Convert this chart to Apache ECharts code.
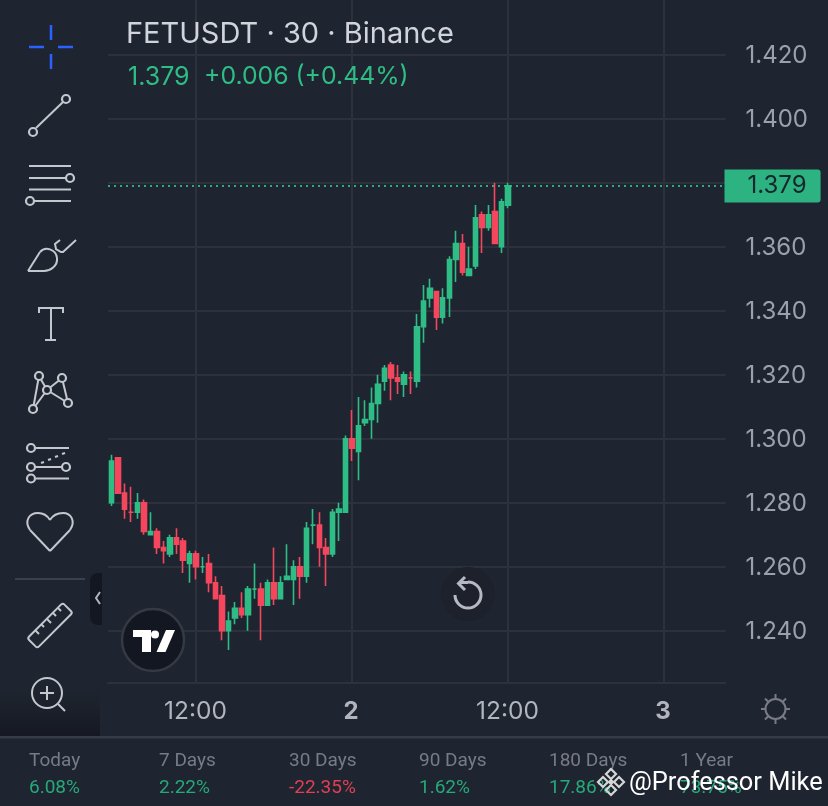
<!DOCTYPE html>
<html><head><meta charset="utf-8">
<style>html,body{margin:0;padding:0;background:#1f2530}#c{width:828px;height:806px}</style>
<script src="https://cdn.jsdelivr.net/npm/echarts@6/dist/echarts.min.js"></script>
</head><body><div id="c"></div>
<script>
// ----- data -----
const times = ["05:30","06:00","06:30","07:00","07:30","08:00","08:30","09:00","09:30","10:00","10:30","11:00","11:30",
"12:00","12:30","13:00","13:30","14:00","14:30","15:00","15:30","16:00","16:30","17:00","17:30","18:00","18:30","19:00","19:30","20:00","20:30","21:00","21:30","22:00","22:30","23:00","23:30",
"2","00:30","01:00","01:30","02:00","02:30","03:00","03:30","04:00","04:30","05:00","05:30","06:00","06:30","07:00","07:30","08:00","08:30","09:00","09:30","10:00","10:30","11:00","11:30",
"12:00","12:30","13:00","13:30","14:00","14:30","15:00","15:30","16:00","16:30","17:00","17:30","18:00","18:30","19:00","19:30","20:00","20:30","21:00","21:30","22:00","22:30","23:00","23:30",
"3","00:30","01:00","01:30","02:00","02:30","03:00","03:30","04:00","04:30"];
const labelledIndexes = [13,37,61,85];
const opens  = [1.280,1.294,1.283,1.277,1.277,1.280,1.270,1.271,1.266,1.264,1.269,1.268,1.261,1.264,1.260,1.261,1.255,1.251,1.240,1.244,1.247,1.245,1.253,1.253,1.248,1.255,1.250,1.256,1.256,1.260,1.257,1.273,1.273,1.266,1.264,1.277,1.277,1.300,1.296,1.305,1.306,1.311,1.318,1.323,1.319,1.317,1.319,1.318,1.335,1.344,1.346,1.338,1.344,1.356,1.361,1.351,1.354,1.370,1.366,1.371,1.360,1.373];
const closes = [1.293,1.283,1.278,1.277,1.280,1.271,1.271,1.266,1.265,1.269,1.267,1.262,1.264,1.260,1.260,1.255,1.250,1.240,1.243,1.247,1.245,1.253,1.253,1.248,1.255,1.250,1.255,1.257,1.260,1.257,1.272,1.273,1.266,1.264,1.277,1.278,1.300,1.297,1.304,1.306,1.311,1.317,1.322,1.319,1.318,1.320,1.319,1.335,1.343,1.347,1.338,1.344,1.356,1.361,1.352,1.353,1.369,1.366,1.370,1.361,1.374,1.379];
const lows   = [1.279,1.283,1.275,1.274,1.275,1.270,1.270,1.264,1.261,1.263,1.264,1.258,1.255,1.256,1.258,1.252,1.250,1.237,1.234,1.242,1.244,1.240,1.250,1.237,1.248,1.248,1.250,1.256,1.248,1.250,1.255,1.267,1.260,1.254,1.263,1.268,1.277,1.293,1.287,1.304,1.300,1.305,1.315,1.312,1.314,1.313,1.314,1.316,1.330,1.341,1.334,1.336,1.338,1.349,1.351,1.351,1.353,1.358,1.365,1.361,1.358,1.372];
const highs  = [1.295,1.294,1.286,1.285,1.283,1.281,1.277,1.272,1.268,1.270,1.272,1.269,1.265,1.265,1.263,1.264,1.257,1.254,1.246,1.249,1.252,1.254,1.261,1.255,1.256,1.266,1.257,1.267,1.262,1.263,1.274,1.278,1.277,1.269,1.278,1.280,1.301,1.309,1.313,1.312,1.316,1.320,1.323,1.324,1.323,1.321,1.321,1.339,1.348,1.350,1.346,1.347,1.357,1.365,1.364,1.360,1.373,1.371,1.373,1.380,1.375,1.380];
const priceTicks = [1.24,1.26,1.28,1.30,1.32,1.34,1.36,1.38,1.40,1.42];
const priceLabels = [1.24,1.26,1.28,1.30,1.32,1.34,1.36,1.40,1.42];
const lastPrice = 1.379;
const statNames  = ["Today","7 Days","30 Days","90 Days","180 Days","1 Year"];
const statValues = ["6.08%","2.22%","-22.35%","1.62%","17.86%","73.75%"];

const UP='#2ebd85', DOWN='#f6465d', BG='#1f2530', GRID='#2c313c', ICON='#c4c7ce';

// ----- icon helpers -----
const Z=50;
const L=(x1,y1,x2,y2,c,w)=>({type:'line',z:Z,shape:{x1,y1,x2,y2},style:{stroke:c||ICON,lineWidth:w||2,fill:null}});
const C=(cx,cy,r,c,w,f)=>({type:'circle',z:Z,shape:{cx,cy,r},style:{stroke:c||ICON,lineWidth:w===undefined?2:w,fill:f||BG}});
const P=(points,c,w)=>({type:'polyline',z:Z,shape:{points},style:{stroke:c||ICON,lineWidth:w||2,fill:null}});
const B=(x1,y1,cpx1,cpy1,cpx2,cpy2,x2,y2,c,w)=>({type:'bezierCurve',z:Z,shape:{x1,y1,cpx1,cpy1,cpx2,cpy2,x2,y2},style:{stroke:c||ICON,lineWidth:w||2,fill:null}});
const T=(x,y,text,font,fill,align)=>({type:'text',z:Z+2,x,y,style:{text,font,fill,align:align||'left',verticalAlign:'middle'}});
const R=(x,y,width,height,fill,z,r)=>({type:'rect',z:z||Z-5,shape:{x,y,width,height,r:r||0},style:{fill}});
const D=(cx,cy,s)=>({type:'polygon',z:Z+3,shape:{points:[[cx,cy-s],[cx+s,cy],[cx,cy+s],[cx-s,cy]]},style:{fill:null,stroke:'#d6d6d6',lineWidth:2.2}});

const BLUE='#2962ff', HANDLE='#131722', AXT='#b2b5be', GEAR='#787b86';
const icons=[
 // left rail + lower panels
 R(0,0,100,737,BG),
 {type:'rect',z:Z-4,shape:{x:0,y:690,width:100,height:47},style:{fill:new echarts.graphic.LinearGradient(0,0,0,1,[{offset:0,color:'#1f2530'},{offset:1,color:'#151821'}])}},
 R(0,684,828,122,BG,Z-6),
 R(0,736,828,2.5,'#363b47',Z),
 // crosshair
 L(51,25,51,40,BLUE,2.5),L(51,54,51,69,BLUE,2.5),L(29,47,44,47,BLUE,2.5),L(58,47,73,47,BLUE,2.5),
 // trend line
 L(36,128,63,102),C(33,132,4,null,2.2),C(66,99,4,null,2.2),
 // fib lines
 L(29,166,71,166),L(29,178,66,178),C(70,178,4,null,2.2),L(29,189.5,71,189.5),L(34,201,71,201),C(30,201,4,null,2.2),
 // brush
 L(28,271,40,252),B(40,252,45,246,56,249,57,258),B(57,258,58,266,50,271,44,271),L(44,271,28,271),
 P([[60,240],[55,244],[56,249],[61,252],[63,252],[76,240]]),
 // T
 P([[39,313],[39,308],[63,308],[63,313]]),L(51,308,51,340),L(45,340,56,340),
 // node pattern
 L(39,376,33,409),L(39,376,47,390),L(62,378,47,390),L(62,378,68,403),L(47,390,68,403),L(33,409,47,390),
 C(39,376,4,null,2.2),C(62,378,4,null,2.2),C(47,390,4,null,2.2),C(33,409,4,null,2.2),C(68,403,4,null,2.2),
 // pattern lines
 C(31,448,4,null,2.2),L(36,448,69,448),
 L(41,463,44,462),L(48,460,51,459),L(55,457,58,456),L(62,454,65,453),
 C(31,467,4,null,2.2),L(36,467,62,467),C(66,467,4,null,2.2),
 C(31,478.5,4,null,2.2),L(36,478.5,69,478.5),
 // heart
 L(50,551,30,530),B(30,530,24,521,29,513,38,513),B(38,513,43,513,47,515,50,520),B(50,520,53,515,57,513,63,513),B(63,513,71,513,76,521,70,530),L(70,530,50,551),
 // separator
 L(15,579,85,579,'#3b404b',2),
 // drawer handle
 {type:'rect',z:Z,shape:{x:90,y:573,width:12,height:52,r:[8,0,0,8]},style:{fill:HANDLE}},
 P([[100,592],[96,598],[100,604]],AXT,2),
 // ruler
 {type:'rect',z:Z,x:50,y:625.5,rotation:-Math.PI/4,originX:0,originY:0,shape:{x:-7,y:-25,width:14,height:50,r:2.5},style:{stroke:ICON,lineWidth:2,fill:null}},
 L(35,630,39,634),L(41,624,44,627),L(47,619,51,623),L(53,613,56,616),L(58,608,61,611),
 // zoom
 C(47,693,15,null,2,'rgba(0,0,0,0)'),L(40,693,54,693),L(47,686,47,700),L(58,704,65,711),
 // TradingView logo
 C(153,640,31,'#343944',2.5,HANDLE),
 R(133,630,18,7,'#fff',Z+1),R(142,630,9,22,'#fff',Z+1),
 C(155,634.5,4,'#fff',0,'#fff'),
 {type:'polygon',z:Z+1,shape:{points:[[166,630],[175,630],[165.5,652],[156.5,652]]},style:{fill:'#fff'}},
 // reset button
 C(468,594,27,'rgba(0,0,0,0)',0,'#1c212b'),
 {type:'arc',z:Z+1,shape:{cx:468,cy:595,r:13,startAngle:-Math.PI/2,endAngle:Math.PI,clockwise:true},style:{stroke:'#b6b9c2',lineWidth:3,fill:null}},
 P([[465,577],[458.5,583.5],[465,590]],'#b6b9c2',3),L(459,582.5,468,582.5,'#b6b9c2',3),
 // settings gear
 C(775.5,709,10,GEAR,2),
 L(775.5,694,775.5,699,GEAR,2),L(775.5,719,775.5,724,GEAR,2),L(761,709,766,709,GEAR,2),L(785,709,790,709,GEAR,2),
 L(765,698.5,769,702.5,GEAR,2),L(782,715.5,786,719.5,GEAR,2),L(786,698.5,782,702.5,GEAR,2),L(769,715.5,765,719.5,GEAR,2),
 // header
 T(126,34.5,'FETUSDT · 30 · Binance','400 29px Inter','#d1d4dc'),
 T(128,77,'1.379','400 25px Inter',UP),
 T(204,77,'+0.006 (+0.44%)','400 24.8px Inter',UP),
 // time-axis labels
 T(195.5,712,times[labelledIndexes[0]],'400 24.5px Inter',AXT,'center'),
 T(351,712,times[labelledIndexes[1]],'700 24px Inter',AXT,'center'),
 T(507.5,712,times[labelledIndexes[2]],'400 24.5px Inter',AXT,'center'),
 T(663,712,times[labelledIndexes[3]],'700 24px Inter',AXT,'center'),
];

// stats row
const statX=[29,159,289,419,549,680];
statNames.forEach((n,i)=>{
  icons.push(T(statX[i],761,n,'400 19px Roboto','#787b86'));
  icons.push(T(statX[i],788,statValues[i],'400 19px Roboto',statValues[i][0]==='-'?'#e23f52':'#26a97a'));
});
// watermark on top
icons.push(D(611,774,5),D(611,790,5),D(603,782,5),D(619,782,5),
  {type:'polygon',z:Z+3,shape:{points:[[611,778.5],[614.5,782],[611,785.5],[607.5,782]]},style:{fill:'#d6d6d6'}},
  {...T(629,784,'@Professor Mike','400 25.4px Roboto','#ffffff'),z:Z+4});

const chart=echarts.init(document.getElementById('c'),null,{renderer:'canvas'});
const isLabelled=(idx)=>labelledIndexes.includes(idx);
const option={
  animation:false,
  backgroundColor:BG,
  grid:{left:108,top:0,width:617.5,height:683,containLabel:false},
  xAxis:{type:'category',data:times,boundaryGap:true,
    axisLine:{show:true,lineStyle:{color:GRID,width:2}},
    axisTick:{show:false,alignWithLabel:true,interval:(i)=>isLabelled(i)},
    axisLabel:{show:false,interval:(i)=>isLabelled(i)},
    splitLine:{show:true,alignWithLabel:true,interval:(i)=>isLabelled(i),lineStyle:{color:GRID,width:2}}},
  yAxis:{type:'value',position:'right',min:1.22366,max:1.4371,scale:true,
    axisLine:{show:false},
    axisTick:{show:false,customValues:priceTicks},
    axisLabel:{color:'#9ca0ab',fontFamily:'Inter',fontSize:24,margin:20,verticalAlign:'top',lineHeight:3,customValues:priceLabels,formatter:(v)=>v.toFixed(3)},
    splitLine:{show:true,lineStyle:{color:GRID,width:2}}},
  series:[{type:'candlestick',data:opens.map((o,i)=>[o,closes[i],lows[i],highs[i]]),barWidth:5,z:5,
    itemStyle:{color:UP,color0:DOWN,borderColor:UP,borderColor0:DOWN,borderWidth:1.6},
    markLine:{silent:true,symbol:'none',animation:false,precision:3,
      data:[{yAxis:lastPrice}],
      lineStyle:{color:UP,type:[2,4],width:2,opacity:0.9},
      label:{position:'end',distance:-1,formatter:()=>lastPrice.toFixed(3),color:'#131722',fontFamily:'Inter',fontSize:24,
        backgroundColor:'#2fc38b',padding:[6,14,3,23],borderRadius:[0,3,3,0]}}}],
  graphic:{elements:icons}
};
chart.setOption(option);
</script></body></html>
